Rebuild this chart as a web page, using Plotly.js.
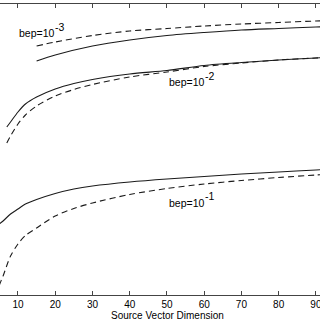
<!DOCTYPE html>
<html>
<head>
<meta charset="utf-8">
<script src="https://cdn.plot.ly/plotly-3.0.1.min.js"></script>
<style>
html,body{margin:0;padding:0;background:#fff;overflow:hidden;width:320px;height:320px;}
#wrap{width:320px;height:320px;overflow:hidden;position:relative;}
#chart{position:absolute;left:-20px;top:0;width:360px;height:320px;}
</style>
</head>
<body>
<div id="wrap"><div id="chart"></div></div>
<script>
// Source vector dimension (x) per curve
var xBep3 = [15, 20, 30, 40, 50, 60, 70, 80, 90, 95];
var xBep2 = [7, 8, 10, 12, 15, 20, 25, 30, 40, 50, 60, 70, 80, 90, 95];
var xBep1 = [4, 5, 6, 8, 10, 12, 15, 20, 25, 30, 40, 50, 60, 70, 80, 90, 95];

// Curve values (arbitrary vertical units)
var bep3Solid  = [23.4, 24.0, 24.9, 25.5, 25.95, 26.25, 26.5, 26.65, 26.8, 26.85];
var bep3Dashed = [24.9, 25.3, 25.95, 26.4, 26.65, 26.9, 27.1, 27.25, 27.4, 27.45];
var bep2Solid  = [16.8, 17.3, 18.3, 19.1, 19.8, 20.6, 21.15, 21.55, 22.1, 22.45, 22.95, 23.25, 23.5, 23.7, 23.8];
var bep2Dashed = [15.2, 15.9, 17.1, 18.0, 18.9, 19.9, 20.55, 21.05, 21.8, 22.3, 22.85, 23.2, 23.5, 23.7, 23.8];
var bep1Solid  = [6.6, 7.1, 7.4, 8.1, 8.6, 9.1, 9.55, 10.15, 10.6, 10.9, 11.3, 11.6, 11.85, 12.1, 12.3, 12.5, 12.6];
var bep1Dashed = [0.0, 1.0, 1.9, 3.9, 5.1, 5.95, 6.7, 7.9, 8.65, 9.2, 10.05, 10.65, 11.1, 11.45, 11.75, 12.0, 12.1];

var tickValues = [10, 20, 30, 40, 50, 60, 70, 80, 90];
var tickLabels = ["10", "20", "30", "40", "50", "60", "70", "80", "90"];
var xTitle = "Source Vector Dimension";
var labelBase = ["bep=10", "bep=10", "bep=10"];
var labelExp = ["-3", "-2", "-1"];

var solidLine = {color: "#1a1a1a", width: 1.1, shape: "spline", smoothing: 0.8};
var dashLine = {color: "#1a1a1a", width: 1.1, dash: "6px,4px", shape: "spline", smoothing: 0.8};

var traces = [
  {x: xBep3, y: bep3Solid, mode: "lines", line: solidLine},
  {x: xBep3, y: bep3Dashed, mode: "lines", line: dashLine},
  {x: xBep2, y: bep2Solid, mode: "lines", line: solidLine},
  {x: xBep2, y: bep2Dashed, mode: "lines", line: dashLine},
  {x: xBep1, y: bep1Solid, mode: "lines", line: solidLine},
  {x: xBep1, y: bep1Dashed, mode: "lines", line: dashLine}
];

var font = {family: "Liberation Sans, Arial, sans-serif", size: 10, color: "#000"};
var labelFont = {family: "Liberation Sans, Arial, sans-serif", size: 10.5, color: "#000"};
var labelPos = [
  {bx: 9.73, by: 26.2, ex: 19.3, ey: 26.85},
  {bx: 50.0, by: 21.3, ex: 59.6, ey: 21.95},
  {bx: 50.0, by: 9.2, ex: 59.6, ey: 9.95}
];
var annotations = [];
for (var i = 0; i < labelBase.length; i++) {
  annotations.push({x: labelPos[i].bx, y: labelPos[i].by, xref: "x", yref: "y", text: labelBase[i],
    showarrow: false, xanchor: "left", yanchor: "middle", font: labelFont});
  annotations.push({x: labelPos[i].ex, y: labelPos[i].ey, xref: "x", yref: "y", text: labelExp[i],
    showarrow: false, xanchor: "left", yanchor: "middle", font: labelFont});
}
annotations.push({x: 50.1, y: -0.070, xref: "x", yref: "paper", text: xTitle,
  showarrow: false, xanchor: "center", yanchor: "middle", font: font});

var layout = {
  width: 360, height: 320,
  margin: {l: 0, r: 0, t: 4, b: 25, pad: 0},
  paper_bgcolor: "#fff", plot_bgcolor: "#fff",
  showlegend: false,
  font: font,
  xaxis: {
    range: [-0.2, 96.47], tickmode: "array", tickvals: tickValues, ticktext: tickLabels,
    ticks: "inside", ticklen: 4, tickcolor: "#444", tickwidth: 1,
    showline: true, linecolor: "#444", linewidth: 1, mirror: "ticks",
    showgrid: false, zeroline: false, automargin: false, tickfont: font,
    ticklabelstandoff: 0
  },
  yaxis: {
    range: [0, 29.1], showline: false, showticklabels: false, ticks: "",
    showgrid: false, zeroline: false, automargin: false
  },
  annotations: annotations
};

Plotly.newPlot("chart", traces, layout, {staticPlot: true, displayModeBar: false});
</script>
</body>
</html>
